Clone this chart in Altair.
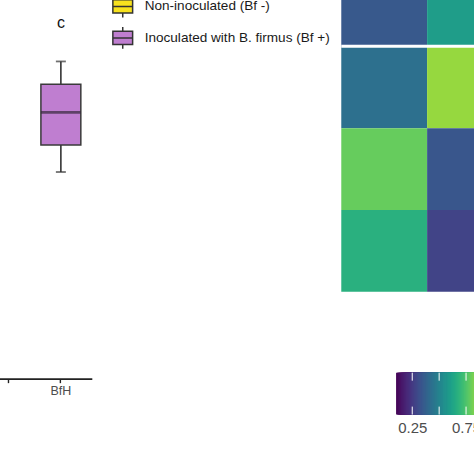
import altair as alt
import numpy as np
import pandas as pd

# ---------------- data ----------------
TREATMENTS = ["Non-inoculated (Bf -)", "Inoculated with B. firmus (Bf +)"]
TREAT_COLORS = ["#F7E21E", "#BF7ED0"]

DOSES = ["BfL", "BfH"]          # x categories of the boxplot panel
BOX_DOSE = ["BfH"]
BOX_TREAT = [TREATMENTS[1]]
BOX_LOWER = [4.99]
BOX_Q1 = [5.64]
BOX_MEDIAN = [6.43]
BOX_Q3 = [7.11]
BOX_UPPER = [7.66]
BOX_LETTER = ["c"]
BOX_LETTER_Y = [8.58]

HM_ROWS = ["R1", "R2", "R3", "R4"]
HM_COLS = ["C1", "C2"]
HM_VALUES = [
    [0.35, 0.60],
    [0.43, 0.86],
    [0.79, 0.34],
    [0.67, 0.28],
]

CB_MIN, CB_MAX = 0.10, 1.00
CB_TICKS = [0.25, 0.50, 0.75, 1.00]
CB_LABELS = [0.25, 0.75]

FONT = "Liberation Sans"

# ---------------- boxplot panel ----------------
box_df = pd.DataFrame({
    "dose": BOX_DOSE, "treatment": BOX_TREAT, "lower": BOX_LOWER, "q1": BOX_Q1,
    "median": BOX_MEDIAN, "q3": BOX_Q3, "upper": BOX_UPPER,
    "letter": BOX_LETTER, "ly": BOX_LETTER_Y,
})

yscale = alt.Scale(domain=[0, 10], nice=False, zero=False)
xenc = alt.X(
    "dose:N",
    scale=alt.Scale(domain=DOSES, paddingInner=0, paddingOuter=0.085),
    axis=alt.Axis(
        title=None, labelAngle=0, labelExpr="datum.value == 'BfH' ? datum.label : ''",
        domainColor="#222222", domainWidth=1.6, tickColor="#222222", tickWidth=1.4,
        tickSize=4, labelColor="#4d4d4d", labelFontSize=12.5, labelPadding=2,
        labelFont=FONT, grid=False,
    ),
)
base = alt.Chart(box_df).encode(x=xenc)

whisker = base.mark_rule(color="#333333", strokeWidth=1.6).encode(
    y=alt.Y("lower:Q", scale=yscale, axis=None), y2="upper:Q")
cap_hi = base.mark_tick(size=10, thickness=1.8, color="#333333").encode(
    y=alt.Y("upper:Q", scale=yscale, axis=None))
cap_lo = base.mark_tick(size=10, thickness=1.8, color="#333333").encode(
    y=alt.Y("lower:Q", scale=yscale, axis=None))

box_path = "M-0.9,-0.6H0.9V0.6H-0.9Z M0,-1V-0.6 M0,0.6V1 M-0.9,0H0.9"
box = base.mark_bar(size=40, stroke="#3a3a3a", strokeWidth=1.5).encode(
    y=alt.Y("q1:Q", scale=yscale, axis=None), y2="q3:Q",
    fill=alt.Fill(
        "treatment:N",
        scale=alt.Scale(domain=TREATMENTS, range=TREAT_COLORS),
        legend=alt.Legend(
            title=None, orient="none", legendX=134, legendY=30, padding=0,
            symbolType=box_path, symbolSize=484, symbolStrokeColor="#333333",
            symbolStrokeWidth=1.5, symbolOpacity=1, labelFontSize=13.6,
            labelColor="#1a1a1a", labelFont=FONT, labelOffset=10,
            rowPadding=3.5, labelLimit=0,
        ),
    ),
)
median = base.mark_tick(size=40, thickness=3, color="#35283b").encode(
    y=alt.Y("median:Q", scale=yscale, axis=None))
letter = base.mark_text(fontSize=16, color="#111111", font=FONT).encode(
    y=alt.Y("ly:Q", scale=yscale, axis=None), text="letter:N")

box_panel = alt.layer(whisker, cap_hi, cap_lo, box, median, letter).properties(
    width=115, height=415)

# ---------------- heatmap ----------------
hm_df = pd.DataFrame([
    {"row": r, "col": c, "value": HM_VALUES[i][j]}
    for i, r in enumerate(HM_ROWS) for j, c in enumerate(HM_COLS)
])
cscale = alt.Scale(scheme="viridis", domain=[CB_MIN, CB_MAX])
heat = alt.Chart(hm_df).mark_rect().encode(
    x=alt.X("col:N", scale=alt.Scale(domain=HM_COLS), axis=None),
    y=alt.Y("row:N", scale=alt.Scale(domain=HM_ROWS), axis=None),
    color=alt.Color("value:Q", scale=cscale, legend=None),
)
sep = alt.Chart(pd.DataFrame({"row": [HM_ROWS[1]]})).mark_rule(
    color="white", strokeWidth=3).encode(
    y=alt.Y("row:N", scale=alt.Scale(domain=HM_ROWS), axis=None, bandPosition=0))
heat_panel = alt.layer(heat, sep).properties(width=172, height=328)

# ---------------- colour bar ----------------
# each strip runs from its start to the bar's end; later strips cover earlier ones,
# so no anti-aliasing seams appear between strips
edges = np.linspace(CB_MIN, CB_MAX, 121)
cb_df = pd.DataFrame({
    "x0": edges[:-1], "x1": np.full(len(edges) - 1, CB_MAX),
    "v": (edges[:-1] + edges[1:]) / 2,
})
cb_axis_min = CB_MIN - 55 / 108
cb_xscale = alt.Scale(domain=[cb_axis_min, CB_MAX], nice=False, zero=False)
cb_axis = alt.Axis(
    values=CB_LABELS, format=".2f", ticks=False, domain=False, grid=False,
    title=None, labelFontSize=15, labelColor="#4d4d4d", labelPadding=6,
    labelFont=FONT,
)
cb_rect = alt.Chart(cb_df).mark_rect().encode(
    x=alt.X("x0:Q", scale=cb_xscale, axis=cb_axis), x2="x1:Q",
    color=alt.Color("v:Q", scale=cscale, legend=None),
    order=alt.Order("x0:Q"),
)
tick_df = pd.DataFrame({"t": CB_TICKS})
cb_tick_top = alt.Chart(tick_df).mark_rule(color="white", strokeWidth=1).encode(
    x=alt.X("t:Q", scale=cb_xscale, axis=cb_axis), y=alt.value(0), y2=alt.value(8))
cb_tick_bot = alt.Chart(tick_df).mark_rule(color="white", strokeWidth=1).encode(
    x=alt.X("t:Q", scale=cb_xscale, axis=cb_axis), y=alt.value(34), y2=alt.value(42))
cb_panel = alt.layer(cb_rect, cb_tick_top, cb_tick_bot).properties(width=152, height=42)

right = alt.vconcat(heat_panel, cb_panel, spacing=81, bounds="flush")

chart = alt.hconcat(box_panel, right, spacing=250, bounds="flush").properties(
    padding={"left": -23, "top": -36, "right": -41, "bottom": 0}
).configure(font=FONT).configure_view(stroke=None).configure_axis(grid=False)

chart.save("out.html", embed_options={"renderer": "svg", "actions": False})
